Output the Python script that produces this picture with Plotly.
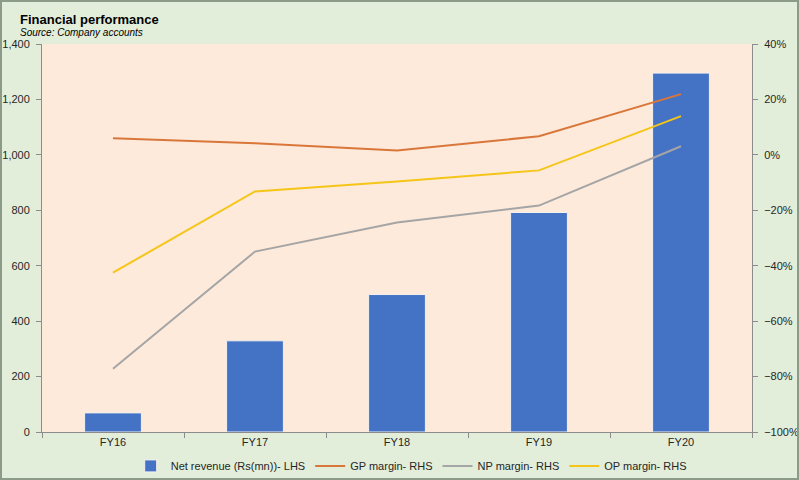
import plotly.graph_objects as go

categories = ["FY16", "FY17", "FY18", "FY19", "FY20"]
net_revenue = [69, 329, 496, 792, 1295]
gp_margin = [6.0, 4.2, 1.6, 6.7, 21.9]
np_margin = [-77.2, -34.9, -24.4, -18.3, 3.1]
op_margin = [-42.5, -13.2, -9.6, -5.6, 14.0]

FONT = "Arial, Liberation Sans, sans-serif"

fig = go.Figure()
fig.add_trace(go.Bar(
    x=categories, y=net_revenue, name="Net revenue (Rs(mn))- LHS",
    marker=dict(color="#4472C4", line=dict(color="#F4F0EE", width=1)),
    width=0.4, yaxis="y",
))
fig.add_trace(go.Scatter(
    x=categories, y=gp_margin, name="GP margin- RHS", mode="lines",
    line=dict(color="#D9773A", width=2), yaxis="y2",
))
fig.add_trace(go.Scatter(
    x=categories, y=np_margin, name="NP margin- RHS", mode="lines",
    line=dict(color="#A5A5A5", width=2), yaxis="y2",
))
fig.add_trace(go.Scatter(
    x=categories, y=op_margin, name="OP margin- RHS", mode="lines",
    line=dict(color="#F5C518", width=2), yaxis="y2",
))

fig.update_layout(
    width=799, height=480,
    margin=dict(l=42, r=47, t=44, b=48, autoexpand=False),
    paper_bgcolor="#E3EEDA",
    plot_bgcolor="#FDEADB",
    font=dict(family=FONT, size=11, color="#262626"),
    showlegend=True,
    legend=dict(orientation="h", x=0.52, xanchor="center", y=-0.05, yanchor="top",
                font=dict(size=11, color="#262626"), bgcolor="rgba(0,0,0,0)"),
    xaxis=dict(
        showgrid=False, showline=True, linecolor="#8C8C8C", linewidth=1,
        ticks="outside", tickson="boundaries", ticklen=5, tickcolor="#8C8C8C",
        tickfont=dict(size=11), range=[-0.5, 4.5],
    ),
    yaxis=dict(
        range=[0, 1400], dtick=200, tickformat=",", showgrid=False,
        showline=True, linecolor="#8C8C8C", linewidth=1,
        ticks="outside", ticklen=5, tickcolor="#8C8C8C", zeroline=False,
        ticklabelstandoff=4,
    ),
    yaxis2=dict(
        range=[-100, 40], dtick=20, ticksuffix="%", overlaying="y", side="right",
        showgrid=False, showline=True, linecolor="#8C8C8C", linewidth=1,
        ticks="outside", ticklen=5, tickcolor="#8C8C8C", zeroline=False,
        ticklabelstandoff=4,
    ),
)

fig.add_annotation(
    text="<b>Financial performance</b>", xref="paper", yref="paper",
    x=0, y=1, xshift=-24, yshift=15, showarrow=False,
    xanchor="left", yanchor="bottom", font=dict(size=13, color="#000000", family=FONT),
)
fig.add_annotation(
    text="<i>Source: Company accounts</i>", xref="paper", yref="paper",
    x=0, y=1, xshift=-24, yshift=4, showarrow=False,
    xanchor="left", yanchor="bottom", font=dict(size=10, color="#000000", family=FONT),
)

fig.add_shape(type="rect", xref="paper", yref="paper",
              x0=-41/710, x1=1+46/710, y0=-47/387, y1=1+43/387,
              line=dict(color="#8C9A88", width=2), fillcolor="rgba(0,0,0,0)", layer="above")

fig.write_html("out.html")
